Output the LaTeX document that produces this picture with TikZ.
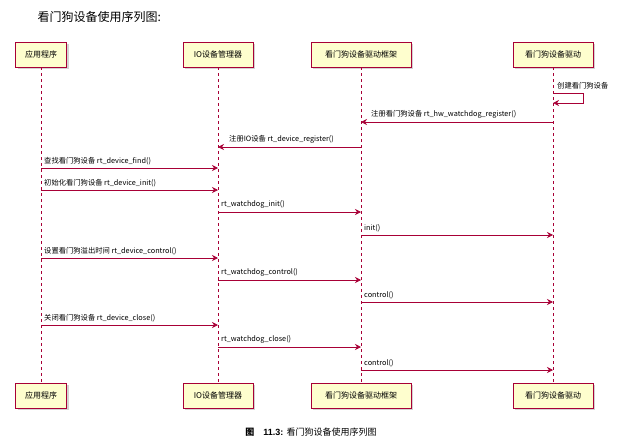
\documentclass[tikz,border=0pt]{standalone}
\usepackage{fontspec}
\setmainfont{Liberation Sans}
\newfontfamily\cjk{Noto Sans CJK SC}
\usetikzlibrary{arrows.meta,shadows}
\definecolor{pred}{HTML}{A80036}
\definecolor{pfill}{HTML}{FEFECE}
\tikzset{
  part/.style={draw=pred,fill=pfill,line width=0.9pt,minimum height=25pt,inner xsep=3pt,font=\cjk\fontsize{8}{9}\selectfont,drop shadow={shadow xshift=2pt,shadow yshift=-2pt,opacity=0.35}},
  life/.style={draw=pred,dashed,dash pattern=on 3pt off 3pt,line width=0.5pt},
  msg/.style={draw=pred,line width=0.7pt,-{Stealth[length=6pt,width=6pt,inset=2pt]}},
  lbl/.style={font=\cjk\fontsize{7.3}{8}\selectfont,inner sep=1pt,anchor=south west}
}
\begin{document}
\begin{tikzpicture}[x=1pt,y=-1pt]
\useasboundingbox (0,0) rectangle (623,447);
\node[font=\cjk\fontsize{12}{13}\selectfont,anchor=west] (title) at (34,17) {看门狗设备使用序列图:};
\node[part,minimum width=51pt] (a) at (41,54.5) {应用程序};
\node[part,minimum width=70pt] (b) at (218,54.5) {IO设备管理器};
\node[part,minimum width=100pt] (c) at (361,54.5) {看门狗设备驱动框架};
\node[part,minimum width=80pt] (d) at (553,54.5) {看门狗设备驱动};
\node[part,minimum width=51pt] (a2) at (41,395.5) {应用程序};
\node[part,minimum width=70pt] (b2) at (218,395.5) {IO设备管理器};
\node[part,minimum width=100pt] (c2) at (361,395.5) {看门狗设备驱动框架};
\node[part,minimum width=80pt] (d2) at (553,395.5) {看门狗设备驱动};
\foreach \p in {a,b,c,d}{\draw[life] (\p.south) -- (\p2.north);}
\coordinate (s1) at (553,93);
\coordinate (s2) at (583,93);
\coordinate (s3) at (583,103);
\coordinate (s4) at (553,103);
\draw[msg] (s1) -- (s2) -- (s3) -- (s4);
\node[lbl] at (556,90) {创建看门狗设备};
\newcommand\msgline[5]{%
  \coordinate (m#5a) at (#1,#3); \coordinate (m#5b) at (#2,#3);
  \draw[msg] (m#5a) -- (m#5b);}
\msgline{553}{361}{122}{}{1}\node[lbl] at (370,120) {注册看门狗设备 rt\_hw\_watchdog\_register()};
\msgline{361}{218}{147}{}{2}\node[lbl] at (228,145) {注册IO设备 rt\_device\_register()};
\msgline{41}{218}{168}{}{3}\node[lbl] at (43,166) {查找看门狗设备 rt\_device\_find()};
\msgline{41}{218}{190}{}{4}\node[lbl] at (43,188) {初始化看门狗设备 rt\_device\_init()};
\msgline{218}{361}{212}{}{5}\node[lbl] at (220,210) {rt\_watchdog\_init()};
\msgline{361}{553}{235}{}{6}\node[lbl] at (363,233) {init()};
\msgline{41}{218}{258}{}{7}\node[lbl] at (43,256) {设置看门狗溢出时间 rt\_device\_control()};
\msgline{218}{361}{280}{}{8}\node[lbl] at (220,278) {rt\_watchdog\_control()};
\msgline{361}{553}{302}{}{9}\node[lbl] at (363,300) {control()};
\msgline{41}{218}{325}{}{10}\node[lbl] at (43,323) {关闭看门狗设备 rt\_device\_close()};
\msgline{218}{361}{347}{}{11}\node[lbl] at (220,345) {rt\_watchdog\_close()};
\msgline{361}{553}{370}{}{12}\node[lbl] at (363,368) {control()};
\node[font=\fontsize{9}{10}\selectfont] (cap) at (311,432) {{\cjk\bfseries 图}\quad\textbf{11.3:} {\cjk\itshape 看门狗设备使用序列图}};
\end{tikzpicture}
\end{document}
